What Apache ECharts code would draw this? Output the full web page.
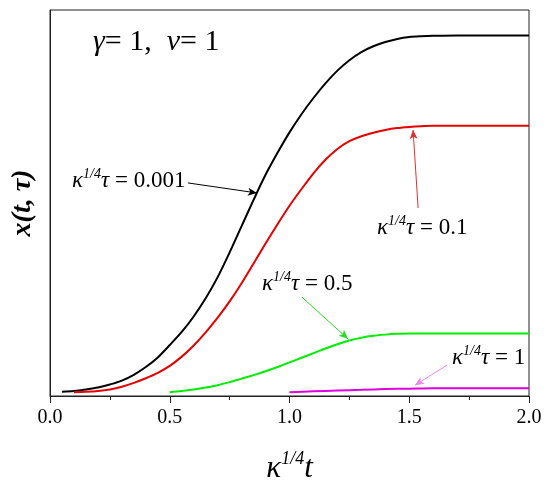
<!DOCTYPE html>
<html><head><meta charset="utf-8">
<script src="https://cdn.jsdelivr.net/npm/echarts@6/dist/echarts.min.js"></script>
<style>html,body{margin:0;padding:0;background:#fff}#c{width:550px;height:481px}</style>
</head><body><div id="c"></div>
<script>
const xTicks = [0.0, 0.5, 1.0, 1.5, 2.0];

const tBlack = [0.05,0.1,0.15,0.2,0.25,0.3,0.35,0.4,0.45,0.5,0.55,0.6,0.65,0.7,0.75,0.8,0.85,0.9,0.95,1.0,1.05,1.1,1.15,1.2,1.25,1.3,1.35,1.4,1.45,1.5,1.55,1.6,1.7,1.8,1.9,2.0];
const yBlack = [0.011,0.013,0.017,0.022,0.030,0.040,0.055,0.075,0.100,0.132,0.166,0.206,0.253,0.308,0.372,0.440,0.508,0.573,0.630,0.683,0.730,0.772,0.810,0.843,0.870,0.891,0.906,0.917,0.925,0.930,0.932,0.933,0.934,0.934,0.934,0.934];

const tRed = [0.1,0.15,0.2,0.25,0.3,0.35,0.4,0.45,0.5,0.55,0.6,0.65,0.7,0.75,0.8,0.85,0.9,0.95,1.0,1.05,1.1,1.15,1.2,1.25,1.3,1.35,1.4,1.45,1.5,1.55,1.6,1.7,1.8,1.9,2.0];
const yRed = [0.010,0.011,0.013,0.017,0.024,0.034,0.046,0.060,0.078,0.102,0.131,0.165,0.203,0.245,0.292,0.343,0.395,0.445,0.493,0.536,0.577,0.612,0.640,0.660,0.673,0.682,0.689,0.694,0.697,0.699,0.700,0.700,0.700,0.700,0.700];

const tGreen = [0.5,0.55,0.6,0.65,0.7,0.75,0.8,0.85,0.9,0.95,1.0,1.05,1.1,1.15,1.2,1.25,1.3,1.35,1.4,1.45,1.5,1.6,1.7,1.8,1.9,2.0];
const yGreen = [0.010,0.013,0.017,0.022,0.028,0.036,0.045,0.054,0.064,0.075,0.087,0.099,0.111,0.123,0.134,0.144,0.151,0.156,0.159,0.161,0.162,0.162,0.162,0.162,0.162,0.162];

const tMag = [1.0,1.1,1.2,1.3,1.4,1.5,1.6,1.7,1.8,1.9,2.0];
const yMag = [0.010,0.012,0.014,0.016,0.018,0.019,0.020,0.020,0.020,0.020,0.020];

const labels = ['0.001', '0.1', '0.5', '1'];

const serif = '"Liberation Serif", "Times New Roman", serif';
function pairs(t, y){ return t.map((v,i)=>[v, y[i]]); }

function arrow(color, from, to){
  return {
    silent: true, symbol: ['none','arrow'], symbolSize: [6,9],
    lineStyle: {color: color, width: 1, type: 'solid'},
    label: {show: false},
    data: [[{coord: from}, {coord: to}]]
  };
}

function series(name, t, y, color, arr){
  return {
    name: name, type: 'line', data: pairs(t, y), smooth: 0.3, showSymbol: false,
    lineStyle: {color: color, width: 2}, itemStyle: {color: color},
    markLine: arr, animation: false
  };
}

const richBase = function(color, size){
  return {
    k: {fontFamily: serif, fontStyle: 'italic', fontSize: size, color: color},
    s: {fontFamily: serif, fontStyle: 'italic', fontSize: Math.round(size*0.6), color: color, padding: [0,0,Math.round(size*0.6),0]},
    n: {fontFamily: serif, fontSize: size, color: color}
  };
};

function kLabel(x, y, val, color){
  return {
    type: 'text', left: x, top: y, silent: true,
    style: {
      text: '{k|κ}{s|1/4}{k|τ}{n| = ' + val + '}',
      rich: richBase(color, 23)
    }
  };
}

const chart = echarts.init(document.getElementById('c'), null, {renderer: 'canvas'});
chart.setOption({
  animation: false,
  grid: {left: 50, right: 21, top: 10, bottom: 85, show: true, borderColor: '#222', borderWidth: 1, containLabel: false, outerBoundsMode: 'none'},
  xAxis: {
    type: 'value', min: xTicks[0], max: xTicks[xTicks.length-1], interval: 0.5,
    axisLine: {show: true, lineStyle: {color: '#222', width: 1}},
    axisTick: {show: true, inside: false, length: 7, lineStyle: {color: '#222'}},
    minorTick: {show: true, splitNumber: 2, length: 4, lineStyle: {color: '#222'}},
    splitLine: {show: false},
    axisLabel: {color: '#000', fontFamily: serif, fontSize: 20, margin: 12, formatter: v => v.toFixed(1)},
    name: '{k|κ}{s|1/4}{t|t}', nameLocation: 'middle', nameGap: 54,
    nameTextStyle: {
      rich: {
        k: {fontFamily: serif, fontStyle: 'italic', fontSize: 31, color: '#000'},
        s: {fontFamily: serif, fontStyle: 'italic', fontSize: 18, color: '#000', padding: [0,0,20,0]},
        t: {fontFamily: serif, fontStyle: 'italic', fontSize: 31, color: '#000'}
      }
    }
  },
  yAxis: {
    type: 'value', min: 0, max: 1,
    axisLine: {show: true, lineStyle: {color: '#222', width: 1}},
    axisTick: {show: false}, axisLabel: {show: false}, splitLine: {show: false},
    name: 'x(t, τ)', nameLocation: 'middle', nameGap: 13, nameRotate: 90,
    nameTextStyle: {fontFamily: serif, fontStyle: 'italic', fontWeight: 'bold', fontSize: 28, color: '#000'}
  },
  series: [
    series('k=0.001', tBlack, yBlack, '#000000', arrow('#000000', [0.576, 0.552], [0.864, 0.526])),
    series('k=0.1', tRed, yRed, '#e60000', arrow('#e03030', [1.537, 0.487], [1.516, 0.689])),
    series('k=0.5', tGreen, yGreen, '#00ee00', arrow('#22dd22', [1.052, 0.256], [1.244, 0.148])),
    series('k=1', tMag, yMag, '#e000e0', arrow('#ee88ee', [1.658, 0.080], [1.524, 0.028]))
  ],
  graphic: [
    {
      type: 'text', left: 93, top: 27, silent: true,
      style: {
        text: '{g|γ}{n|= 1,  }{g|ν}{n|= 1}',
        rich: {
          g: {fontFamily: serif, fontStyle: 'italic', fontSize: 30, color: '#000'},
          n: {fontFamily: serif, fontSize: 30, color: '#000'}
        }
      }
    },
    kLabel(72, 167, labels[0], '#000000'),
    kLabel(377, 214, labels[1], '#e60000'),
    kLabel(262, 270, labels[2], '#00ee00'),
    kLabel(452, 344, labels[3], '#e000e0')
  ]
});
</script></body></html>
